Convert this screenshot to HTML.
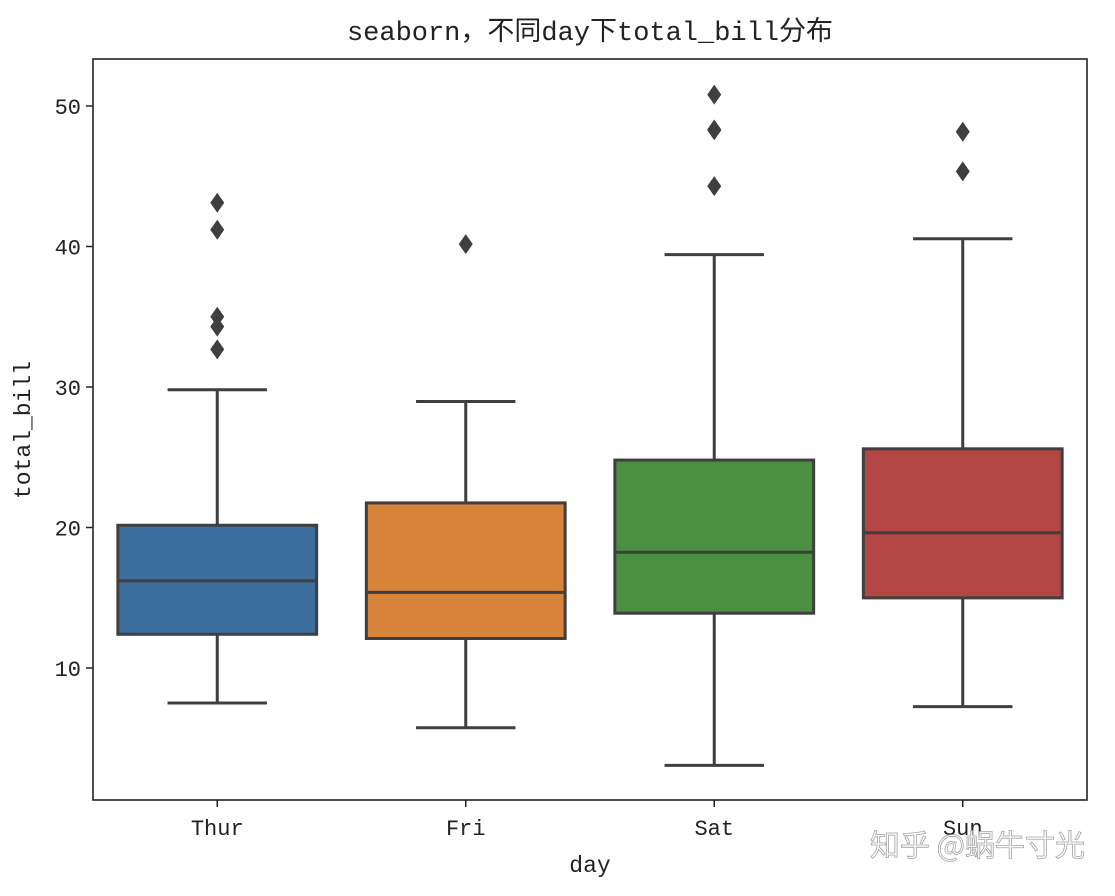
<!DOCTYPE html>
<html><head><meta charset="utf-8"><style>
body{margin:0;background:#fff;}
svg text{font-family:"Liberation Mono","Noto Sans CJK SC",monospace;fill:#222;}
</style></head><body>
<svg id="chart" width="1115" height="891" xmlns="http://www.w3.org/2000/svg">
<rect x="0" y="0" width="1115" height="891" fill="#fff"/>
<text x="590" y="40" font-size="27" text-anchor="middle">seaborn，不同day下total_bill分布</text>
<g id="marks"></g>
<rect x="93" y="59" width="994" height="741" fill="none" stroke="#222" stroke-width="1.6"/>
<text x="590" y="872" font-size="23" text-anchor="middle">day</text>
<text transform="translate(30,430) rotate(-90)" font-size="23" text-anchor="middle">total_bill</text>
<text x="1085" y="856" font-size="30" text-anchor="end" style="fill:#fff;stroke:#999;stroke-width:0.8;opacity:0.9;font-family:'Noto Sans CJK SC',sans-serif">知乎 @蜗牛寸光</text>
</svg>
<script>
const categories=["Thur","Fri","Sat","Sun"];
const whiskLow=[7.51,5.75,3.07,7.25];
const q1=[12.4,12.1,13.9,14.99];
const medians=[16.2,15.38,18.24,19.63];
const q3=[20.16,21.75,24.8,25.6];
const whiskHigh=[29.8,28.97,39.42,40.55];
const outliers=[[43.11,41.19,35.0,34.3,32.68],[40.17],[50.81,48.33,48.27,44.3],[48.17,45.35]];
const colors=["#3d6f9e","#d8833a","#4a8f42","#b34543"];
const yTicks=[10,20,30,40,50];
const plotLeft=93,plotRight=1087,plotTop=59,plotBottom=800;
function y(v){return 668-(v-10)*14.05;}
const step=(plotRight-plotLeft)/categories.length;
function x(i){return plotLeft+step*(i+0.5);}
const g=document.getElementById('marks');
const NS="http://www.w3.org/2000/svg";
function el(t,a){const e=document.createElementNS(NS,t);for(const k in a)e.setAttribute(k,a[k]);g.appendChild(e);return e;}
const lc="#3f3f3f",lw=3;
yTicks.forEach(t=>{
 const l=el('line',{x1:plotLeft-7,x2:plotLeft,y1:y(t),y2:y(t),stroke:'#222','stroke-width':1.5});
 
 
 const tx=el('text',{x:plotLeft-12,y:y(t)+8,'font-size':22,'text-anchor':'end'});tx.textContent=t;
 
 
});
categories.forEach((c,i)=>{
 const cx=x(i),hw=step*0.4,cw=step*0.2;
 const tk=el('line',{x1:cx,x2:cx,y1:plotBottom,y2:plotBottom+7,stroke:'#222','stroke-width':1.5});
 
 
 const tl=el('text',{x:cx,y:plotBottom+35,'font-size':22,'text-anchor':'middle'});tl.textContent=c;
 
 
 const w1=el('line',{x1:cx,x2:cx,y1:y(whiskLow[i]),y2:y(q1[i]),stroke:lc,'stroke-width':lw});
 
 
 const w2=el('line',{x1:cx,x2:cx,y1:y(q3[i]),y2:y(whiskHigh[i]),stroke:lc,'stroke-width':lw});
 
 
 const c1=el('line',{x1:cx-cw,x2:cx+cw,y1:y(whiskLow[i]),y2:y(whiskLow[i]),stroke:lc,'stroke-width':lw});
 
 
 const c2=el('line',{x1:cx-cw,x2:cx+cw,y1:y(whiskHigh[i]),y2:y(whiskHigh[i]),stroke:lc,'stroke-width':lw});
 
 
 const b=el('rect',{x:cx-hw,y:y(q3[i]),width:2*hw,height:y(q1[i])-y(q3[i]),fill:colors[i],stroke:lc,'stroke-width':lw});
 
 
 const m=el('line',{x1:cx-hw,x2:cx+hw,y1:y(medians[i]),y2:y(medians[i]),stroke:lc,'stroke-width':lw});
 
 
 outliers[i].forEach(v=>{
  const yy=y(v);
  const p=el('polygon',{points:`${cx},${yy-10} ${cx+7},${yy} ${cx},${yy+10} ${cx-7},${yy}`,fill:lc});
  
  
 });
});
</script>
</body></html>
